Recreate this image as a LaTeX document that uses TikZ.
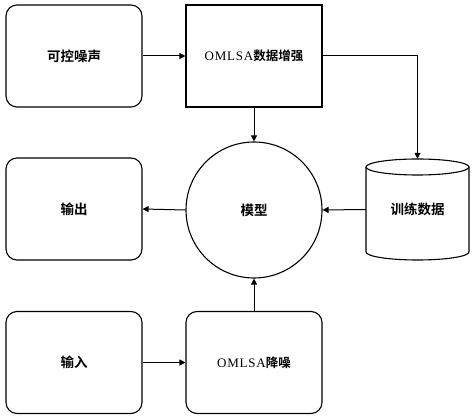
\documentclass[tikz,border=0pt]{standalone}
\usepackage{fontspec}
\setmainfont{Liberation Serif}
\newfontfamily\cjk{Noto Sans CJK SC Bold}
\newfontfamily\lat[LetterSpace=6]{Liberation Serif}
\usetikzlibrary{arrows.meta}
\begin{document}
\begin{tikzpicture}[x=1pt,y=1pt,
  box/.style={draw, line width=1.1pt, minimum width=136pt, minimum height=102pt, inner sep=0pt},
  rbox/.style={box, rounded corners=11pt},
  lbl/.style={font=\fontsize{13.5}{15}\selectfont\cjk},
  slbl/.style={font=\fontsize{12.5}{15}\selectfont\cjk},
  arr/.style={line width=1pt, -{Triangle[length=6pt,width=6pt]}}]
\useasboundingbox (0,0) rectangle (474,420);
\node[rbox, lbl] (noise) at (74,364) {可控噪声};
\node[box, slbl] (aug) at (254,364) {{\fontsize{13}{15}\selectfont\lat OMLSA}数据增强};
\node[circle, draw, line width=1.1pt, minimum size=136pt, inner sep=0pt, lbl] (model) at (254,210) {模型};
\node[rbox, lbl] (out) at (74,211) {输出};
\node[rbox, lbl] (in) at (74,57.5) {输入};
\node[rbox, slbl] (den) at (254,57.5) {{\fontsize{13}{15}\selectfont\lat OMLSA}降噪};
% cylinder
\node[minimum width=103pt, minimum height=101pt, inner sep=0pt, lbl] (cyl) at (417.5,210.5) {训练数据};
\draw[line width=1.1pt] (417.5,253) ellipse [x radius=51.5, y radius=8];
\draw[line width=1.1pt] (366,253) -- (366,168) arc[start angle=180, end angle=360, x radius=51.5, y radius=8] -- (469,253);
% connectors
\draw[arr] (noise.east) -- (aug.west);
\draw[arr] (aug.south) -- (model.north);
\coordinate (corner) at (cyl.north |- aug.east);
\draw[arr] (aug.east) -- (corner) -- (cyl.north);
\draw[arr] (cyl.west) -- (model.east);
\draw[arr] (model.west) -- (out.east);
\draw[arr] (in.east) -- (den.west);
\draw[arr] (den.north) -- (model.south);
\end{tikzpicture}
\end{document}
